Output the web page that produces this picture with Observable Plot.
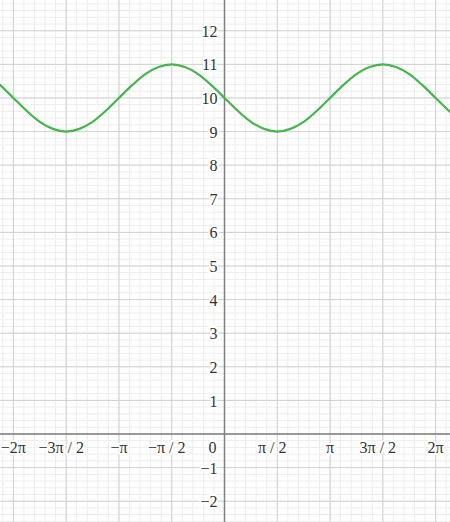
<!DOCTYPE html>
<html><head><meta charset="utf-8">
<script src="https://cdn.jsdelivr.net/npm/d3@7"></script>
<script src="https://cdn.jsdelivr.net/npm/@observablehq/plot@0.6"></script>
<style>body{margin:0;background:#fff;overflow:hidden}</style>
</head><body><div id="chart"></div>
<script>
// x ticks in multiples of π/2, with their labels
const xTickHalfPi = [-4, -3, -2, -1, 1, 2, 3, 4];
const xTickLabels = ["−2π", "−3π / 2", "−π", "−π / 2", "π / 2", "π", "3π / 2", "2π"];
// y tick values
const yTicks = [-2, -1, 1, 2, 3, 4, 5, 6, 7, 8, 9, 10, 11, 12];
// curve samples: x in multiples of π/8, y values
const curveStepsPiOver8 = [-18,-17,-16,-15,-14,-13,-12,-11,-10,-9,-8,-7,-6,-5,-4,-3,-2,-1,0,1,2,3,4,5,6,7,8,9,10,11,12,13,14,15,16,17,18];
const curveY = [10.71,10.38,10,9.62,9.29,9.08,9,9.08,9.29,9.62,10,10.38,10.71,10.92,11,10.92,10.71,10.38,10,9.62,9.29,9.08,9,9.08,9.29,9.62,10,10.38,10.71,10.92,11,10.92,10.71,10.38,10,9.62,9.29];

const PI = Math.PI;
const X0 = -6.667, X1 = 6.726, Y0 = -2.634, Y1 = 12.9;

const curve = curveStepsPiOver8.map((s, i) => ({x: s * PI / 8, y: curveY[i]}));
const xTicks = xTickHalfPi.map((k, i) => ({x: k * PI / 2, label: xTickLabels[i]}));
const xFrac = xTicks.filter(d => d.label.includes("/"));
const xPlain = xTicks.filter(d => !d.label.includes("/"));

const minorX = d3.range(Math.ceil(X0 / (PI / 10)), Math.floor(X1 / (PI / 10)) + 1).map(k => k * PI / 10);
const majorX = d3.range(-4, 5).map(k => k * PI / 2);
const minorY = d3.range(Math.ceil(Y0 * 5), Math.floor(Y1 * 5) + 1).map(k => k / 5);
const majorY = d3.range(-2, 13);

const font = "Liberation Serif, Times New Roman, serif";
const textStyle = {fontFamily: font, fontSize: 16, fill: "#333", stroke: "white", strokeWidth: 4};

const fmt = v => (v < 0 ? "−" + Math.abs(v) : String(v));

const chart = Plot.plot({
  width: 450,
  height: 522,
  margin: 0,
  style: {background: "white"},
  x: {domain: [X0, X1], axis: null},
  y: {domain: [Y0, Y1], axis: null},
  marks: [
    Plot.ruleX(minorX, {stroke: "#ededed", strokeWidth: 1}),
    Plot.ruleY(minorY, {stroke: "#ededed", strokeWidth: 1}),
    Plot.ruleX(majorX, {stroke: "#d0d0d0", strokeWidth: 1}),
    Plot.ruleY(majorY, {stroke: "#d0d0d0", strokeWidth: 1}),
    Plot.ruleX([0], {stroke: "#808080", strokeWidth: 1.5}),
    Plot.ruleY([0], {stroke: "#808080", strokeWidth: 1.5}),
    Plot.line(curve, {x: "x", y: "y", stroke: "#45b54c", strokeWidth: 2.2, curve: "catmull-rom"}),
    Plot.text(xPlain, {x: "x", y: () => 0, text: "label", dy: 14, ...textStyle}),
    Plot.text(xFrac, {x: "x", y: () => 0, text: "label", dy: 14, dx: -5, ...textStyle}),
    Plot.text(yTicks, {x: () => 0, y: d => d, text: fmt, textAnchor: "end", dx: -7, dy: 1, ...textStyle}),
    Plot.text(["0"], {x: () => 0, y: () => 0, text: d => d, textAnchor: "end", dx: -8, dy: 14, ...textStyle})
  ]
});
document.getElementById("chart").append(chart);
</script>
</body></html>
